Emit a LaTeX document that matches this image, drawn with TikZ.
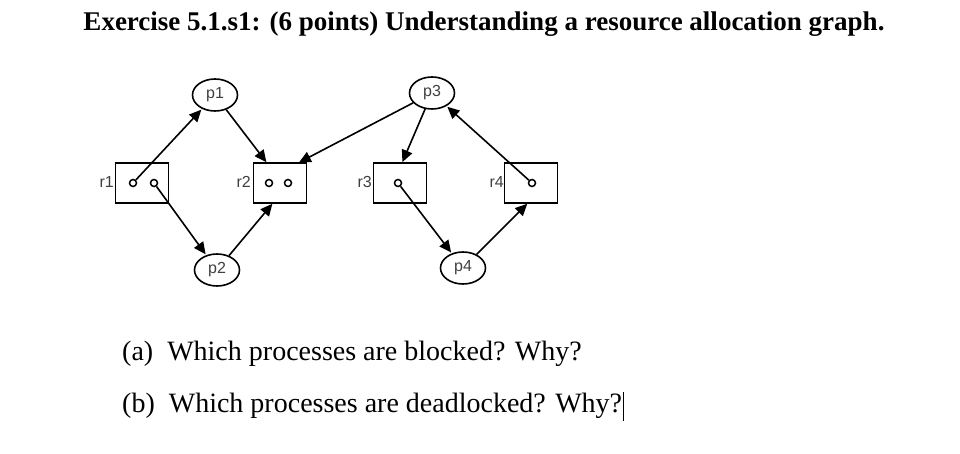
\documentclass[tikz,border=0pt]{standalone}
\usepackage{fontspec}
\setmainfont{Liberation Serif}
\newfontfamily\arialf{Liberation Sans}
\usetikzlibrary{arrows.meta,shapes.geometric}
\begin{document}
\begin{tikzpicture}[x=1pt,y=-1pt,
  proc/.style={draw,ellipse,line width=1.6pt,minimum width=45pt,minimum height=32pt,inner sep=0pt,font=\arialf\fontsize{16}{16}\selectfont,text=black!75},
  res/.style={draw,line width=1.6pt,minimum width=53pt,minimum height=40pt,inner sep=0pt},
  dot/.style={circle,draw,line width=1.5pt,minimum size=7pt,inner sep=0pt},
  lab/.style={font=\arialf\fontsize{16}{16}\selectfont,text=black!75,anchor=east,inner sep=0pt},
  edge/.style={line width=1.6pt,-{Triangle[length=12pt,width=11pt]},shorten >=1pt},
  qtext/.style={anchor=west,inner sep=0pt,font=\fontsize{28}{28}\selectfont}]
\useasboundingbox (0,0) rectangle (960,454);
\node[anchor=base,inner sep=0pt,font=\bfseries\fontsize{27}{28}\selectfont] (title) at (484,31) {Exercise 5.1.s1: (6 points) Understanding a resource allocation graph.};
\node[proc] (p1) at (215,95) {p1};
\node[proc] (p3) at (432,93) {p3};
\node[proc] (p2) at (217,270) {p2};
\node[proc] (p4) at (463,268) {p4};
\node[res] (r1) at (142,183) {};
\node[res] (r2) at (280,183) {};
\node[res] (r3) at (400,183) {};
\node[res] (r4) at (531,183) {};
\node[dot] (d1a) at (133,183) {};
\node[dot] (d1b) at (154,183) {};
\node[dot] (d2a) at (269,183) {};
\node[dot] (d2b) at (288,183) {};
\node[dot] (d3) at (398,183) {};
\node[dot] (d4) at (532,183) {};
\node[lab] (l1) at (114,182) {r1};
\node[lab] (l2) at (251,182) {r2};
\node[lab] (l3) at (372,182) {r3};
\node[lab] (l4) at (504,182) {r4};
\coordinate (r2t1) at (267,163);
\coordinate (r2t2) at (298,163);
\coordinate (r2b) at (273,203);
\coordinate (r3t) at (402,163);
\coordinate (r4b) at (528,203);
\draw[edge] (d1a) -- (p1);
\draw[edge] (d1b) -- (p2);
\draw[edge] (p1) -- (r2t1);
\draw[edge] (p3) -- (r2t2);
\draw[edge] (p2) -- (r2b);
\draw[edge] (p3) -- (r3t);
\draw[edge] (d3) -- (p4);
\draw[edge] (p4) -- (r4b);
\draw[edge] (d4) -- (p3);
\node[qtext] (qa) at (122,354) {(a)\hspace{14pt}Which processes are blocked? Why?};
\node[qtext] (qb) at (122,406) {(b)\hspace{14pt}Which processes are deadlocked? Why?};
\draw[line width=1.2pt] ([xshift=1pt,yshift=-15pt]qb.east) -- ([xshift=1pt,yshift=14pt]qb.east);
\end{tikzpicture}
\end{document}
